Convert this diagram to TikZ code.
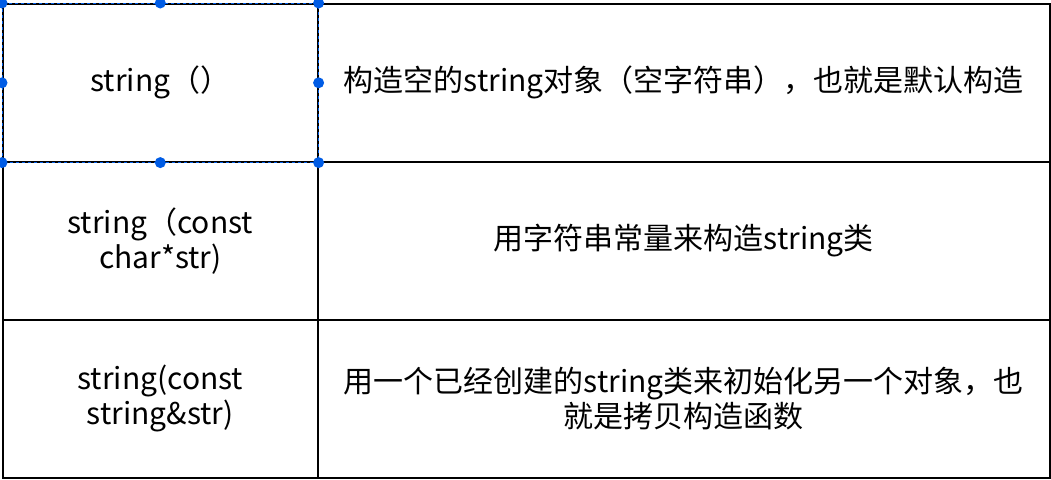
\documentclass[tikz,border=0pt]{standalone}
\usepackage{fontspec}
\setmainfont{Noto Sans CJK SC}
\begin{document}
\begin{tikzpicture}[x=1pt,y=-1pt,
  cell/.style={draw=black,line width=1.6pt,minimum width=#1,minimum height=158pt,inner sep=0pt,align=center,font=\fontsize{30}{35}\selectfont,anchor=north west},
  handle/.style={circle,fill=blue!60!cyan!90!black,inner sep=0pt,minimum size=11pt}]
\useasboundingbox (0,0) rectangle (1051,479);
\node[cell=315pt] (a1) at (2,3) {string（）};
\node[cell=732pt] (b1) at (317,3) {构造空的string对象（空字符串），也就是默认构造};
\node[cell=315pt] (a2) at (2,161) {string（const\\char*str)};
\node[cell=732pt] (b2) at (317,161) {用字符串常量来构造string类};
\node[cell=315pt] (a3) at (2,319) {string(const\\string\&str)};
\node[cell=732pt] (b3) at (317,319) {用一个已经创建的string类来初始化另一个对象，也\\就是拷贝构造函数};
\draw[blue!60!cyan!90!black,dashed,line width=0.8pt] (a1.north west) rectangle (a1.south east);
\foreach \p in {north west,north,north east,west,east,south west,south,south east}
  \node[handle] at (a1.\p) {};
\end{tikzpicture}
\end{document}
